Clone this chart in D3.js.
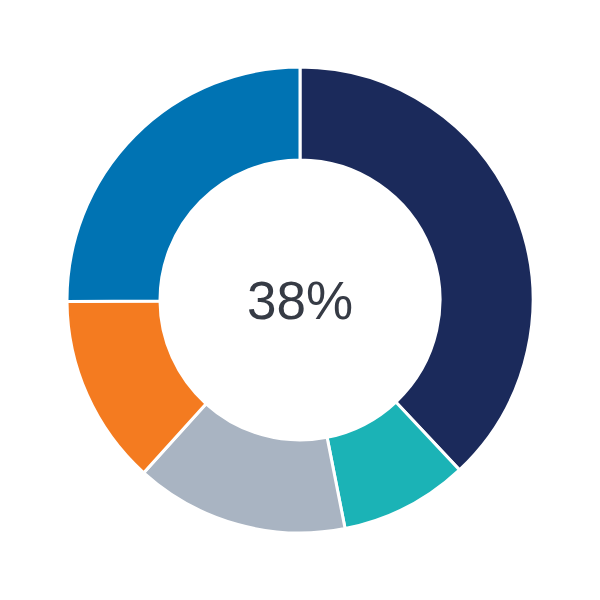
<!DOCTYPE html>
<html>
<head>
<meta charset="utf-8">
<script src="https://cdn.jsdelivr.net/npm/d3@7"></script>
<style>
  html, body { margin: 0; padding: 0; background: #fff; }
</style>
</head>
<body>
<div id="chart"></div>
<script>
const labels = ['A', 'B', 'C', 'D', 'E'];
const values = [38, 8.9, 14.8, 13.2, 25.1];
const colors = ['#1b2a5b', '#1bb3b6', '#a9b4c2', '#f47b20', '#0073b3'];
const centerLabel = '38%';

const width = 600,
    height = 600,
    outer = 233,
    inner = 140;

const svg = d3.select('#chart').append('svg')
    .attr('width', width)
    .attr('height', height);

const g = svg.append('g')
    .attr('transform', 'translate(' + width / 2 + ', ' + height / 2 + ')');

const pie = d3.pie().sort(null).value(d => d);
const arc = d3.arc().innerRadius(inner).outerRadius(outer);

const color = d3.scaleOrdinal().domain(labels).range(colors);

g.selectAll('path')
    .data(pie(values))
    .enter()
    .append('path')
    .attr('d', arc)
    .attr('fill', (d, i) => color(labels[i]))
    .attr('stroke', '#fff')
    .attr('stroke-width', 3);

g.append('text')
    .attr('text-anchor', 'middle')
    .attr('dy', '0.35em')
    .attr('font-family', 'Liberation Sans, Arial, sans-serif')
    .attr('font-size', 53)
    .attr('fill', '#363b45')
    .text(centerLabel);
</script>
</body>
</html>
